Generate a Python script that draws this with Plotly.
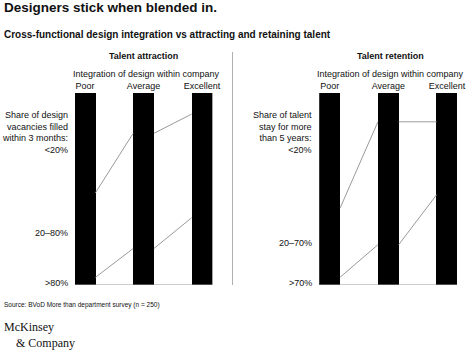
import plotly.graph_objects as go

W, H = 474, 353

categories = ["Poor", "Average", "Excellent"]

# Talent attraction: share of design vacancies filled within 3 months (% of companies)
attr_over80 = [4, 19, 35]
attr_20_80 = [44, 60, 54]
attr_under20 = [52, 21, 11]

# Talent retention: share of talent staying more than 5 years (% of companies)
ret_over70 = [4, 21, 47]
ret_20_70 = [36, 64, 38]
ret_under20 = [60, 15, 15]

attr_labels = [">80%", "20–80%", "Share of design<br>vacancies filled<br>within 3 months:<br><20%"]
ret_labels = [">70%", "20–70%", "Share of talent<br>stay for more<br>than 5 years:<br><20%"]

BAR_W = 0.355
FONT = "Liberation Sans, Arial, sans-serif"
SERIF = "Liberation Serif, Times New Roman, serif"
LINE_COL = "#9a9a9a"

def px_x(p):
    return p / W

def px_y(p):
    return 1 - p / H

fig = go.Figure()

panels = [
    ("x", "y", [attr_over80, attr_20_80, attr_under20]),
    ("x2", "y2", [ret_over70, ret_20_70, ret_under20]),
]

xs = list(range(len(categories)))
for xa, ya, segs in panels:
    for seg in segs:
        fig.add_trace(go.Bar(x=xs, y=seg, width=BAR_W, marker=dict(color="black", line=dict(width=0)),
                             xaxis=xa, yaxis=ya, showlegend=False, hoverinfo="skip"))
    cum1 = segs[0]
    cum2 = [a + b for a, b in zip(segs[0], segs[1])]
    for cum in (cum1, cum2):
        for i in range(len(categories) - 1):
            fig.add_trace(go.Scatter(x=[i + BAR_W / 2, i + 1 - BAR_W / 2], y=[cum[i], cum[i + 1]],
                                     mode="lines", line=dict(color=LINE_COL, width=1),
                                     xaxis=xa, yaxis=ya, showlegend=False, hoverinfo="skip"))
    fig.add_shape(type="line", xref=xa, yref=ya, x0=-BAR_W / 2, x1=len(categories) - 1 + BAR_W / 2,
                  y0=0, y1=0, line=dict(color=LINE_COL, width=1), layer="above")

rng = [-BAR_W / 2, len(categories) - 1 + BAR_W / 2]
ydom = [px_y(285), px_y(93)]
xcommon = dict(range=rng, side="top", tickvals=xs, ticktext=categories, showgrid=False, zeroline=False,
               showline=False, ticks="", ticklabelstandoff=1,
               tickfont=dict(family=FONT, size=9, color="#111"), fixedrange=True)
ycommon = dict(range=[0, 100], showgrid=False, zeroline=False, showline=False, showticklabels=False,
               domain=ydom, fixedrange=True)

fig.update_layout(
    width=W, height=H, margin=dict(l=0, r=0, t=0, b=0),
    paper_bgcolor="white", plot_bgcolor="white", barmode="stack", bargap=0,
    xaxis=dict(domain=[px_x(76), px_x(216)], anchor="y", **xcommon),
    yaxis=dict(anchor="x", **ycommon),
    xaxis2=dict(domain=[px_x(324.7), px_x(465.3)], anchor="y2", **xcommon),
    yaxis2=dict(anchor="x2", **ycommon),
    font=dict(family=FONT, color="#111"),
)

ann = []
def A(text, x, y, size, xanchor="left", yanchor="middle", bold=False, family=FONT, align="left"):
    ann.append(dict(text=f"<b>{text}</b>" if bold else text, x=px_x(x), y=px_y(y), xref="paper", yref="paper",
                    xanchor=xanchor, yanchor=yanchor, showarrow=False, align=align,
                    font=dict(family=family, size=size, color="#111")))

A("Designers stick when blended in.", 2, 7, 13.5, bold=True)
A("Cross-functional design integration vs attracting and retaining talent", 2, 34, 10, bold=True)
A("Talent attraction", 146, 56, 9, xanchor="center", bold=True)
A("Talent retention", 397, 56, 9, xanchor="center", bold=True)
A("Integration of design within company", 149.5, 74, 9, xanchor="center")
A("Integration of design within company", 397, 74, 9, xanchor="center")

A(attr_labels[0], 71, 283, 9, xanchor="right")
A(attr_labels[1], 71, 233, 9, xanchor="right")
A(attr_labels[2], 71, 157, 9, xanchor="right", yanchor="bottom", align="right")
A(ret_labels[0], 319, 283, 9, xanchor="right")
A(ret_labels[1], 319, 243, 9, xanchor="right")
A(ret_labels[2], 319, 157, 9, xanchor="right", yanchor="bottom", align="right")

A("Source: BVoD More than department survey (n = 250)", 2, 305, 6.5)
A("McKinsey<br>&nbsp;&nbsp;&nbsp;&nbsp;&amp; Company", 2, 335, 12, family=SERIF)

fig.update_layout(annotations=ann)
fig.add_shape(type="line", xref="paper", yref="paper", x0=px_x(236.5), x1=px_x(236.5), y0=px_y(285), y1=px_y(52),
              line=dict(color="#b0b0b0", width=1))

fig.write_html("out.html")
